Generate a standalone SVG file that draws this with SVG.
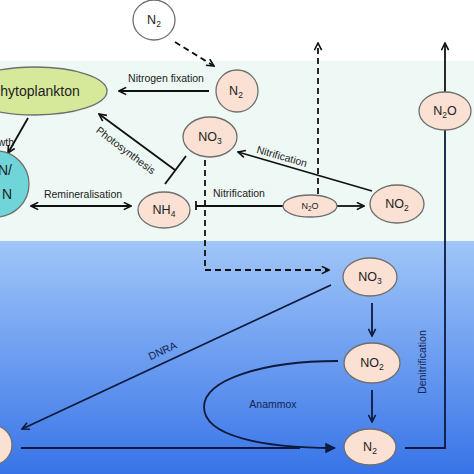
<svg xmlns="http://www.w3.org/2000/svg" width="474" height="474" viewBox="0 0 474 474">
<defs>
<linearGradient id="sea" x1="0" y1="0" x2="0" y2="1">
<stop offset="0" stop-color="#a0c6f8"/>
<stop offset="1" stop-color="#3874e8"/>
</linearGradient>
<marker id="open" viewBox="0 0 10 10" refX="9" refY="5" markerWidth="5" markerHeight="5" orient="auto-start-reverse" markerUnits="strokeWidth">
<path d="M1,1 L9,5 L1,9" fill="none" stroke="#111" stroke-width="1.8"/>
</marker>
<marker id="openb" viewBox="0 0 10 10" refX="9" refY="5" markerWidth="5" markerHeight="5" orient="auto" markerUnits="strokeWidth">
<path d="M1,1 L9,5 L1,9" fill="none" stroke="#0d1a3c" stroke-width="1.8"/>
</marker>
<marker id="solid" viewBox="0 0 10 10" refX="9" refY="5" markerWidth="6" markerHeight="6" orient="auto" markerUnits="strokeWidth">
<path d="M0,0 L10,5 L0,10 Z" fill="#0d1a3c"/>
</marker>
</defs>
<style>
.node{fill:#fbe1d3;stroke:#6e6e6e;stroke-width:1.3}
.nt{font-family:"Liberation Sans",Arial,sans-serif;font-size:12.5px;fill:#222;text-anchor:middle}
.sub{font-size:8.5px}
.lbl{font-family:"Liberation Sans",Arial,sans-serif;font-size:10.5px;fill:#222;text-anchor:middle}
.lblb{font-family:"Liberation Sans",Arial,sans-serif;font-size:10.5px;fill:#14254f;text-anchor:middle}
.ln{fill:none;stroke:#111;stroke-width:1.8}
.lnb{fill:none;stroke:#0d1a3c;stroke-width:1.8}
.dash{fill:none;stroke:#111;stroke-width:1.8;stroke-dasharray:6,4}
</style>
<rect x="0" y="0" width="474" height="474" fill="#ffffff"/>
<rect x="0" y="61" width="474" height="180" fill="#eef8f4"/>
<rect x="0" y="241" width="474" height="233" fill="url(#sea)"/>

<g id="connectors">
<path class="dash" d="M175,42 L214,66" marker-end="url(#open)"/>
<path class="ln" d="M209,91 L119,91" marker-end="url(#open)"/>
<path class="ln" d="M28,118 L8,153" marker-end="url(#open)"/>
<path class="ln" d="M31,206 L131,206" marker-start="url(#open)" marker-end="url(#open)"/>
<path class="ln" d="M186,156 L165,184"/>
<path class="ln" d="M175,170 L99,114" marker-end="url(#open)"/>
<path class="ln" d="M196,201 L196,210"/>
<path class="ln" d="M196,206 L283,206"/>
<path class="ln" d="M337,206 L364,206" marker-end="url(#open)"/>
<path class="ln" d="M372,191 L238,152" marker-end="url(#open)"/>
<path class="dash" d="M318,194 L318,43" marker-end="url(#open)"/>
<path class="ln" d="M445,92 L445,43" marker-end="url(#open)"/>
<path class="dash" d="M205,160 L205,270 L329,270" marker-end="url(#open)"/>
<path class="lnb" d="M445,130 L445,448 L405,448"/>
<path class="lnb" d="M372,303 L372,336" marker-end="url(#openb)"/>
<path class="lnb" d="M372,390 L372,422" marker-end="url(#openb)"/>
<path class="lnb" d="M331,285 L22,429" marker-end="url(#openb)"/>
<path class="lnb" d="M338,361 C262,361 204,380 204,407 C204,436 262,448 335,448" marker-end="url(#solid)"/>
<path class="lnb" d="M21,448 L300,448"/>
</g>

<g id="labels">
<text class="lbl" x="166" y="82">Nitrogen fixation</text>
<text class="lbl" x="14" y="146" style="text-anchor:end">Growth</text>
<text class="lbl" x="83" y="198">Remineralisation</text>
<text class="lbl" transform="translate(126,150) rotate(37)" y="4">Photosynthesis</text>
<text class="lbl" transform="translate(282,156) rotate(16)" y="4">Nitrification</text>
<text class="lbl" x="239" y="197">Nitrification</text>
<text class="lblb" transform="translate(164,354) rotate(-25)">DNRA</text>
<text class="lblb" x="273" y="408">Anammox</text>
<text class="lblb" transform="translate(426,362) rotate(-90)">Denitrification</text>
</g>

<g id="n2-top">
<ellipse cx="154" cy="20" rx="21" ry="20" fill="#ffffff" stroke="#6e6e6e" stroke-width="1.3"/>
<text class="nt" x="154" y="24">N<tspan class="sub" dy="3">2</tspan></text>
</g>
<g id="phytoplankton">
<ellipse cx="35" cy="91" rx="72" ry="24" fill="#d6e99a" stroke="#6e6e6e" stroke-width="1.3"/>
<text x="-9" y="96" font-family="Liberation Sans, Arial, sans-serif" font-size="14" fill="#222">Phytoplankton</text>
</g>
<g id="pon-don">
<circle cx="-4" cy="184" r="33" fill="#6fd5d8" stroke="#6e6e6e" stroke-width="1.3"/>
<text x="12" y="175" font-family="Liberation Sans, Arial, sans-serif" font-size="14" fill="#222" text-anchor="end">N/</text>
<text x="12" y="199" font-family="Liberation Sans, Arial, sans-serif" font-size="14" fill="#222" text-anchor="end">N</text>
</g>
<g id="n2-fix">
<ellipse class="node" cx="237" cy="91" rx="21" ry="21"/>
<text class="nt" x="236" y="95">N<tspan class="sub" dy="3">2</tspan></text>
</g>
<g id="no3-upper">
<ellipse class="node" cx="210" cy="137" rx="27" ry="20"/>
<text class="nt" x="210" y="141">NO<tspan class="sub" dy="3">3</tspan></text>
</g>
<g id="nh4">
<ellipse class="node" cx="164" cy="210" rx="26" ry="18"/>
<text class="nt" x="164" y="214">NH<tspan class="sub" dy="3">4</tspan></text>
</g>
<g id="n2o-small">
<ellipse class="node" cx="310" cy="206" rx="27" ry="11"/>
<text class="nt" x="310" y="209" style="font-size:9px">N<tspan style="font-size:6.5px" dy="2">2</tspan><tspan dy="-2">O</tspan></text>
</g>
<g id="no2-upper">
<ellipse class="node" cx="397" cy="204" rx="27" ry="19"/>
<text class="nt" x="397" y="208">NO<tspan class="sub" dy="3">2</tspan></text>
</g>
<g id="n2o-right">
<ellipse class="node" cx="445" cy="111" rx="26" ry="19"/>
<text class="nt" x="445" y="115">N<tspan class="sub" dy="3">2</tspan><tspan dy="-3">O</tspan></text>
</g>
<g id="no3-lower">
<ellipse class="node" cx="370" cy="277" rx="27" ry="19"/>
<text class="nt" x="370" y="281">NO<tspan class="sub" dy="3">3</tspan></text>
</g>
<g id="no2-lower">
<ellipse class="node" cx="372" cy="363" rx="28" ry="20"/>
<text class="nt" x="372" y="367">NO<tspan class="sub" dy="3">2</tspan></text>
</g>
<g id="n2-lower">
<ellipse class="node" cx="370" cy="447" rx="26" ry="18"/>
<text class="nt" x="370" y="451">N<tspan class="sub" dy="3">2</tspan></text>
</g>
<g id="nh4-sediment">
<circle class="node" cx="-8" cy="445" r="20"/>
</g>
</svg>
